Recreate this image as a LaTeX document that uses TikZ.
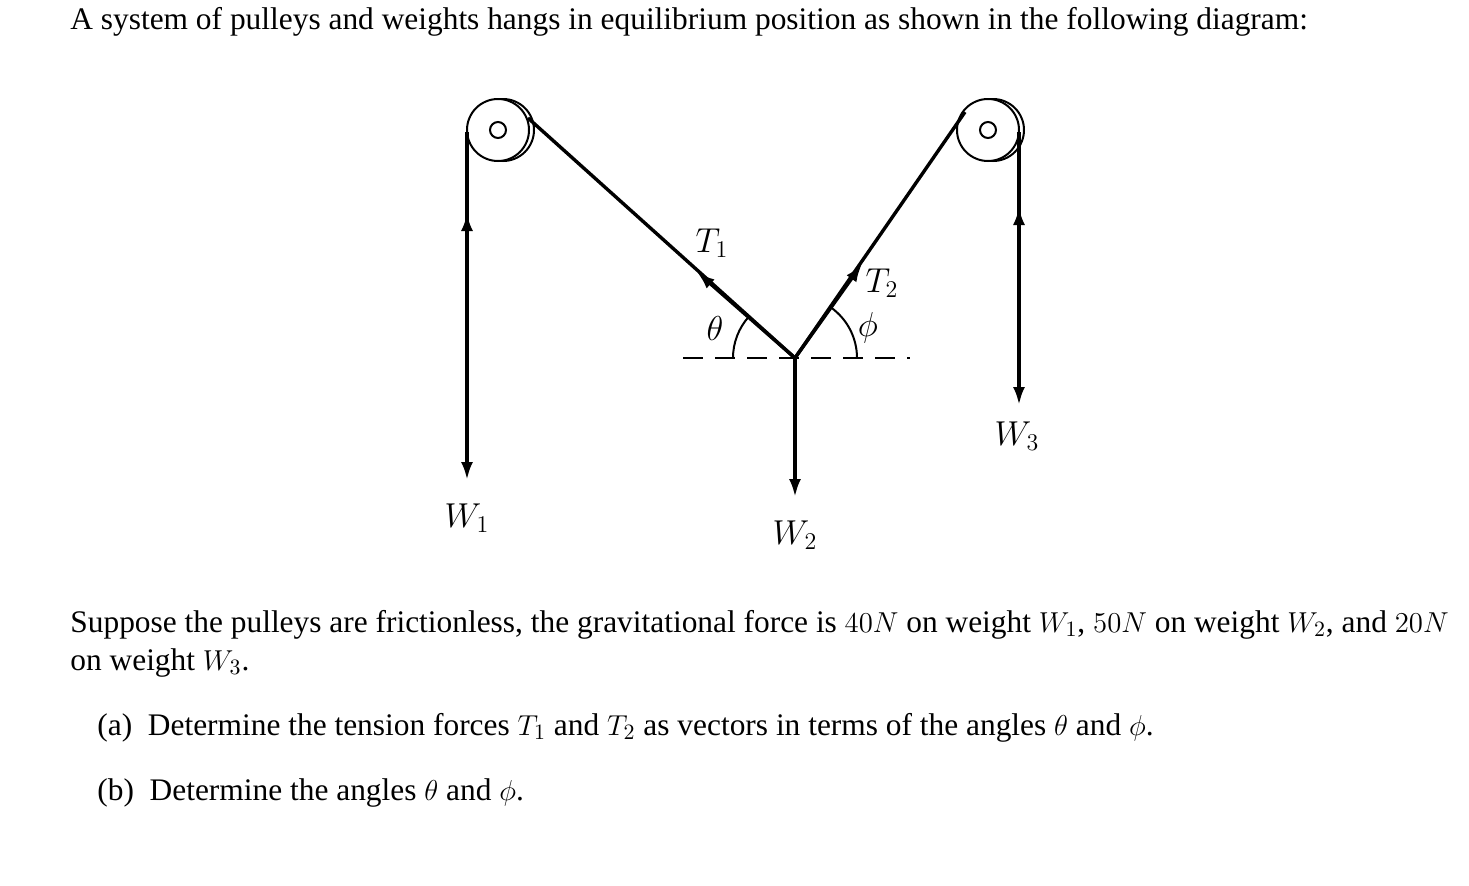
\documentclass[tikz,border=0pt]{standalone}
\usepackage{fontspec}
\setmainfont{Liberation Serif}
\usetikzlibrary{arrows.meta}
\begin{document}
\begin{tikzpicture}[x=0.5pt,y=-0.5pt,
  rope/.style={line width=1.7pt},
  endarr/.style={-{Latex[length=9pt,width=6pt]}},
  lab/.style={font=\fontsize{17}{20}\selectfont},
  txt/.style={font=\fontsize{15.7}{19}\selectfont,anchor=west,inner sep=0}]
\useasboundingbox (0,0) rectangle (1469,885);
% pulleys
\foreach \n/\cx in {pl/498,pr/988}{
  \draw[line width=1pt] (\cx+5,130) circle (31);
  \draw[line width=1pt,fill=white] (\cx,130) circle (31);
  \draw[line width=1pt] (\cx,130) circle (8);
}
\coordinate (J) at (795,358);
\coordinate (tl) at (528,118);
\coordinate (tr) at (965,112);
% ropes
\draw[rope,endarr] (467,132) -- (467,480);
\draw[rope,endarr] (467,300) -- (467,213);
\draw[rope,endarr] (1019,300) -- (1019,207);
\draw[rope,endarr] (1019,132) -- (1019,405);
\draw[rope] (J) -- (tl);
\draw[rope,endarr] (J) -- (697,272);
\draw[rope] (J) -- (tr);
\draw[rope,endarr] (J) -- (862,264);
\draw[rope,endarr] (J) -- (795,497);
\draw[line width=1pt,dash pattern=on 10pt off 6pt] (683,358) -- (910,358);
\draw[line width=1pt] (733,358) arc[start angle=180,end angle=222,radius=62];
\draw[line width=1pt] (857,358) arc[start angle=0,end angle=-55,radius=62];
% labels
\node[lab] (T1) at (712,243) {$T_1$};
\node[lab] (T2) at (882,283) {$T_2$};
\node[lab] (th) at (715,328) {$\theta$};
\node[lab] (ph) at (868,328) {$\phi$};
\node[lab] (W1) at (467,518) {$W_1$};
\node[lab] (W2) at (795,535) {$W_2$};
\node[lab] (W3) at (1017,436) {$W_3$};
% text
\node[txt] (h) at (70,22) {A system of pulleys and weights hangs in equilibrium position as shown in the following diagram:};
\node[txt] (p1) at (70,625) {Suppose the pulleys are frictionless, the gravitational force is $40N$ on weight $W_1$, $50N$ on weight $W_2$, and $20N$};
\node[txt] (p2) at (70,663) {on weight $W_3$.};
\node[txt] (a) at (97,728) {(a)\ \ Determine the tension forces $T_1$ and $T_2$ as vectors in terms of the angles $\theta$ and $\phi$.};
\node[txt] (b) at (97,793) {(b)\ \ Determine the angles $\theta$ and $\phi$.};
\end{tikzpicture}
\end{document}
